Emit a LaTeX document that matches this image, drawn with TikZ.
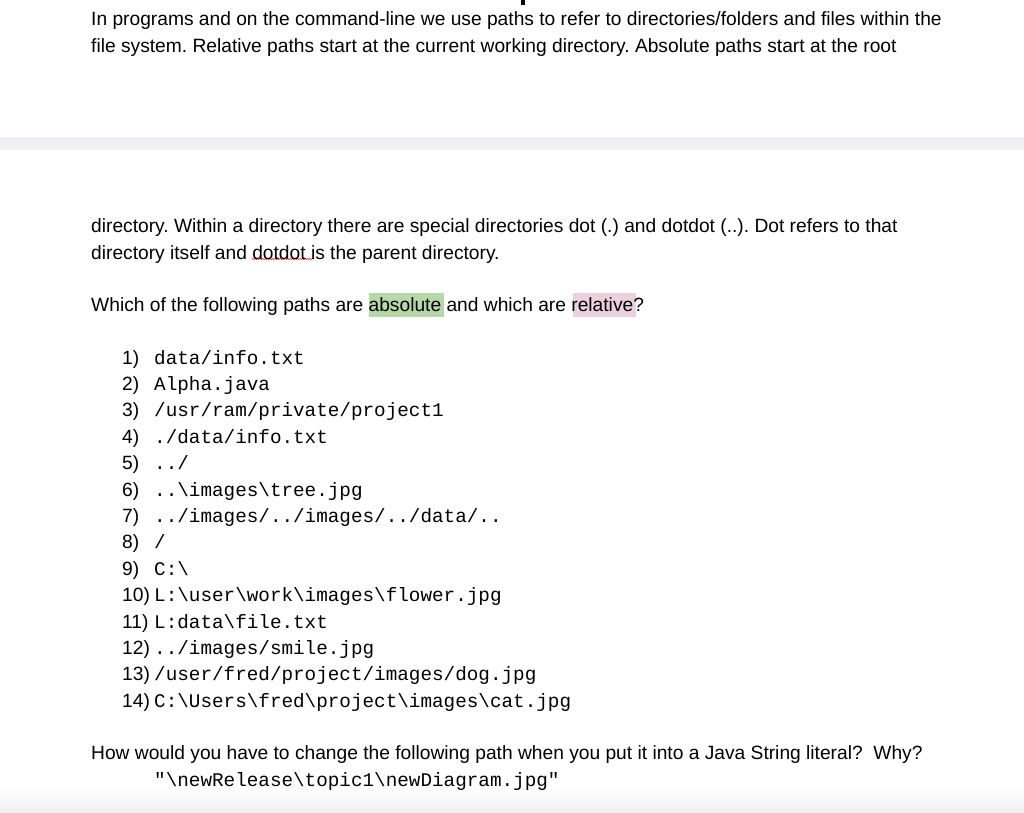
\documentclass[tikz,border=0pt]{standalone}
\usepackage{fontspec}
\setmainfont{Liberation Sans}
\newfontfamily\codefont{Liberation Mono}
\usetikzlibrary{decorations.pathmorphing}
\definecolor{absgreen}{HTML}{B6D7A8}
\definecolor{relpink}{HTML}{EAD1DC}
\definecolor{bandgray}{HTML}{EFF0F2}
\newcommand\bsl{\symbol{92}}
\frenchspacing
\tikzset{
  para/.style={anchor=base west, inner sep=0pt, font=\fontsize{19.2}{22}\selectfont},
  code/.style={anchor=base west, inner sep=0pt, font=\codefont\fontsize{19.3}{22}\selectfont},
}
\begin{document}
\begin{tikzpicture}[x=1pt,y=-1pt]
  \useasboundingbox[fill=white] (0,0) rectangle (1024,812);
  % page break band and bottom shade
  \fill[bandgray] (0,137) rectangle (1024,150);
  \shade[top color=white,bottom color=bandgray] (0,785) rectangle (1024,812);
  \fill (521,0) rectangle (525,5);
  % highlights
  \fill[absgreen] (369,293) rectangle (444,317);
  \fill[relpink] (573,293) rectangle (636,317);
  \draw[red,decorate,decoration={zigzag,segment length=2.5pt,amplitude=0.8pt}] (252,259) -- (314,259);
  % text
  \node[para] (l1) at (91,25) {In programs and on the command-line we use paths to refer to directories/folders and files within the};
  \node[para] (l2) at (91,52) {file system. Relative paths start at the current working directory. Absolute paths start at the root};
  \node[para] (l3) at (91,232) {directory. Within a directory there are special directories dot (.) and dotdot (..). Dot refers to that};
  \node[para] (l4) at (91,259) {directory itself and dotdot is the parent directory.};
  \node[para] (q1) at (91,311) {Which of the following paths are absolute and which are relative?};
  \foreach \p [count=\i] in {{data/info.txt}, {Alpha.java}, {/usr/ram/private/project1},
      {./data/info.txt}, {../}, {..\bsl images\bsl tree.jpg},
      {../images/../images/../data/..}, {/}, {C:\bsl},
      {L:\bsl user\bsl work\bsl images\bsl flower.jpg},
      {L:data\bsl file.txt}, {../images/smile.jpg},
      {/user/fred/project/images/dog.jpg},
      {C:\bsl Users\bsl fred\bsl project\bsl images\bsl cat.jpg}} {
    \node[para] (n\i) at (122,{364+26.4*(\i-1)}) {\i)};
    \node[code] (p\i) at (154,{364+26.4*(\i-1)}) {\p};
  }
  \node[para] (q2) at (91,759) {How would you have to change the following path when you put it into a Java String literal?\ \ Why?};
  \node[code] (s) at (154,786) {"\bsl newRelease\bsl topic1\bsl newDiagram.jpg"};
\end{tikzpicture}
\end{document}
